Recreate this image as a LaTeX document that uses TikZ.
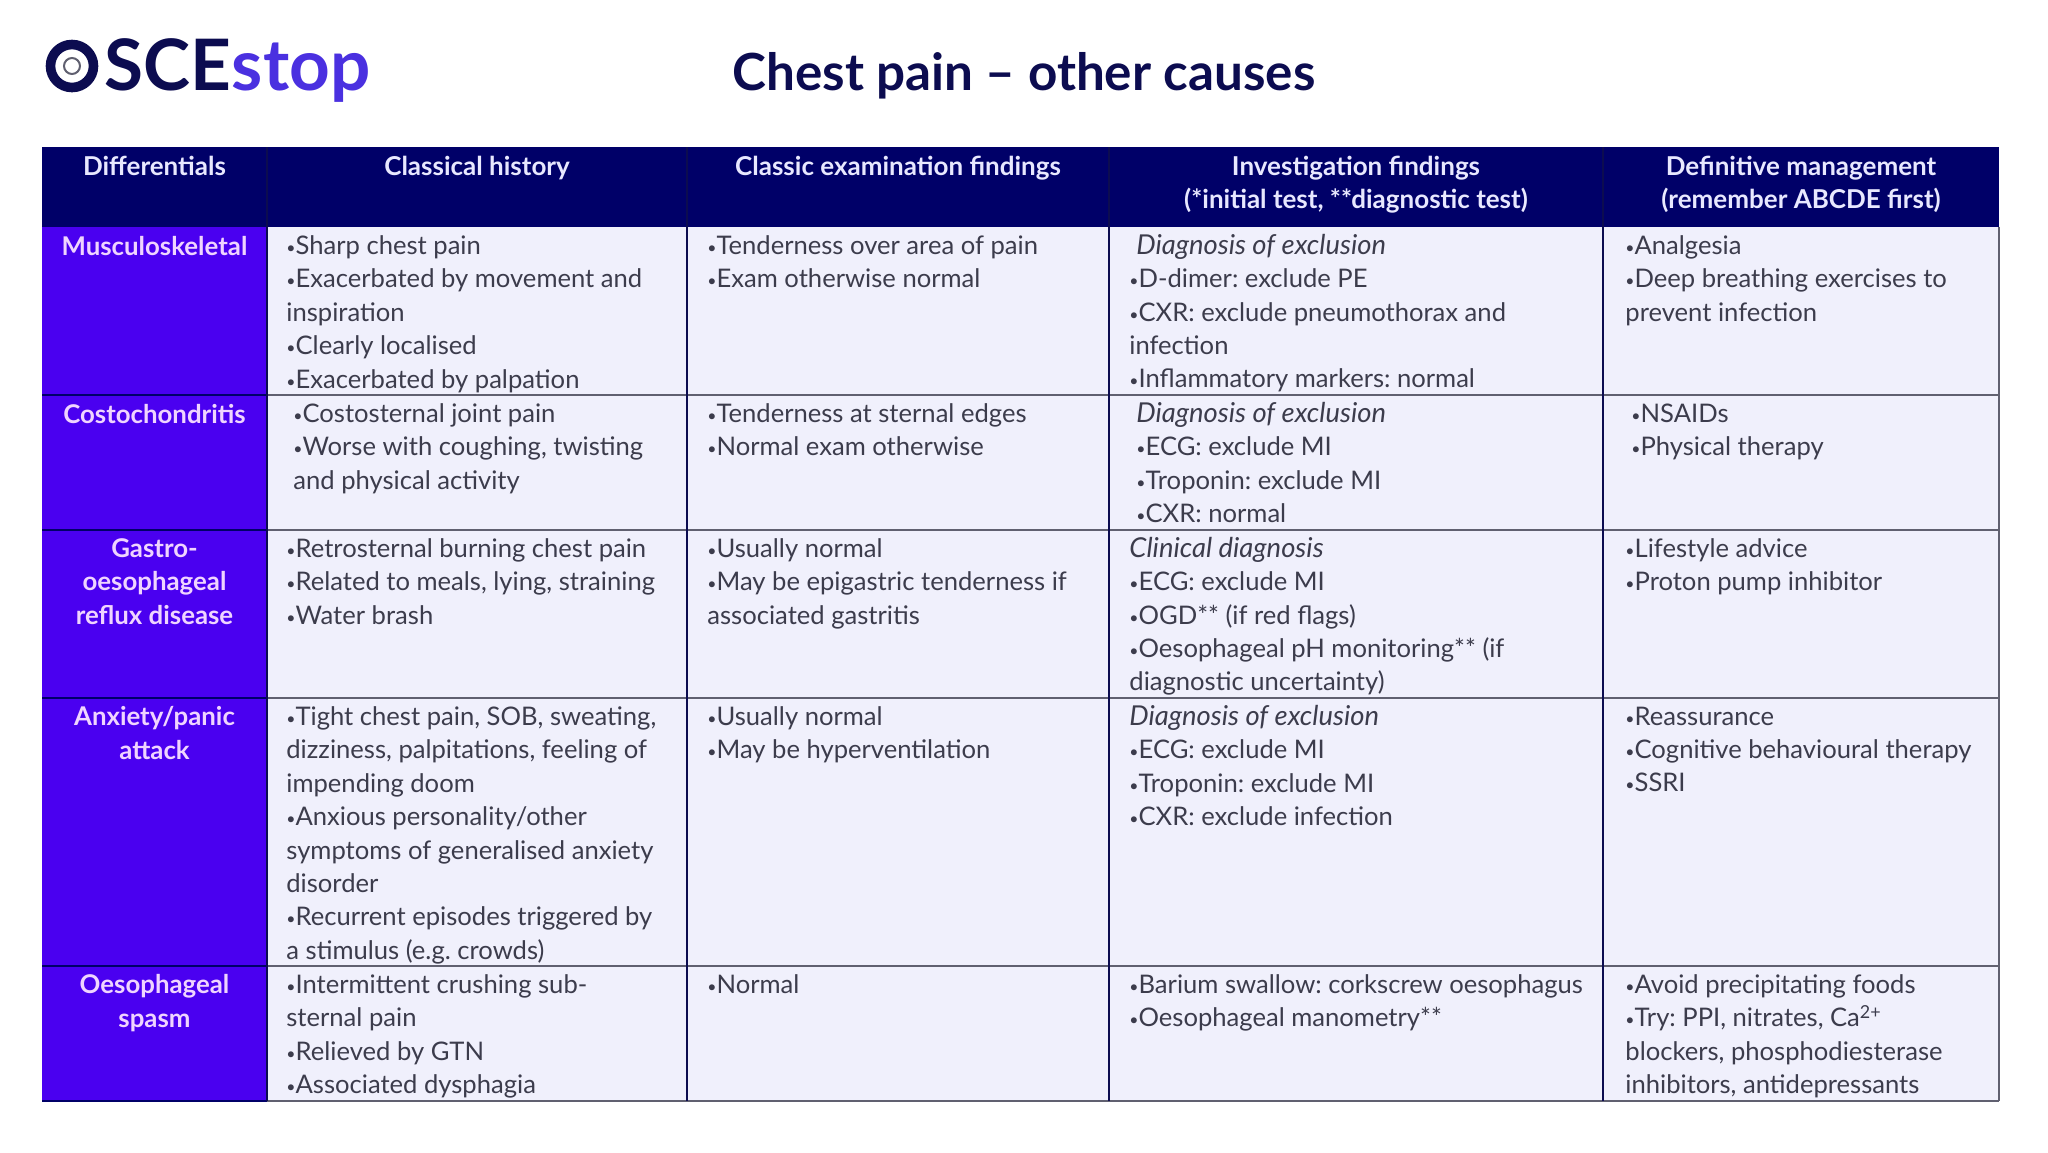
\documentclass[tikz,border=0pt]{standalone}
\usepackage{fontspec}
\setmainfont{Lato}
\usetikzlibrary{calc}

\definecolor{headnavy}{HTML}{000068}
\definecolor{sidepurple}{HTML}{4A00F0}
\definecolor{cellpale}{HTML}{F0F0FC}
\definecolor{celltext}{HTML}{3C3C4C}
\definecolor{sidetext}{HTML}{F0D4FF}
\definecolor{headtext}{HTML}{E8E8FF}
\definecolor{gridgrey}{HTML}{606070}
\definecolor{titlenavy}{HTML}{0C0C50}
\definecolor{stoppurple}{HTML}{4A30E0}

\newcommand{\blt}{\raisebox{.5pt}{\scalebox{.62}{•}}}
\newcommand{\ital}[1]{{\fontsize{13.7}{16.7}\selectfont\itshape #1}}

\tikzset{
	cellbox/.style={anchor=north west, inner sep=0pt, align=left, text=celltext,
		font=\fontsize{12.8}{16.7}\selectfont\frenchspacing, execute at begin node={\rule{0pt}{12pt}}},
	italbox/.style={cellbox, yshift=0.8pt},
	headbox/.style={anchor=north, inner sep=0pt, align=center, text=headtext,
		font=\fontsize{13}{16.7}\selectfont\bfseries\frenchspacing, execute at begin node={\rule{0pt}{12pt}}},
	sidebox/.style={headbox, text=sidetext, font=\fontsize{12.9}{16.7}\selectfont\bfseries},
}

\begin{document}
\begin{tikzpicture}[x=0.5pt, y=-0.5pt]

		\useasboundingbox (0, 0) rectangle (2048, 1152);

		\pgfmathsetmacro{\onedrop}{4.4}
		\pgfmathsetmacro{\textdrop}{8.3}

		% column and row edges
		\def\xa{42} \def\xb{267} \def\xc{687} \def\xd{1109} \def\xe{1603} \def\xf{1999}
		\def\ya{147} \def\yb{227} \def\yc{395} \def\yd{530} \def\ye{698} \def\yf{966} \def\yg{1101}

		% draw fills
		\fill[cellpale] (\xb, \yb) rectangle (\xf, \yg);
		\fill[headnavy] (\xa, \ya) rectangle (\xf, \yb);
		\fill[sidepurple] (\xa, \yb) rectangle (\xb, \yg);

		% draw grid
		\foreach \yline in {\yc, \yd, \ye, \yf, \yg}
		{
			\draw[gridgrey, line width=1.2pt] (\xb, \yline) -- (\xf, \yline);
			\draw[headnavy, line width=1pt] (\xa, \yline) -- (\xb, \yline);
		}
		\foreach \xline in {\xb, \xc, \xd, \xe}
		{
			\draw[titlenavy, line width=0.7pt] (\xline, \ya) -- (\xline, \yg);
		}
		\draw[gridgrey, line width=0.8pt] (\xf, \yb) -- (\xf, \yg);

		% draw logo
		\node[circle, draw=titlenavy, line width=4.8pt, minimum size=21.5pt, inner sep=0pt] (ring) at (72, 66) {};
		\node[circle, draw=gridgrey, line width=1pt, minimum size=8pt, inner sep=0pt] (ringcore) at (ring) {};
		\node[anchor=base west, inner sep=0pt, text=titlenavy, font=\fontsize{35.5}{35.5}\selectfont\bfseries] (sce) at (104, 90.5) {SCE};
		\node[anchor=base west, inner sep=0pt, text=stoppurple, font=\fontsize{35.5}{35.5}\selectfont\bfseries] (stop) at (sce.base east) {stop};

		% draw title
		\node[anchor=base west, inner sep=0pt, text=titlenavy, font=\fontsize{25.6}{25.6}\selectfont\bfseries] (title) at (732, 90.5) {Chest pain – other causes};

		% draw header
		\node[headbox] (hdiff) at ($(\xa, \ya)!0.5!(\xb, \ya) + (0, \onedrop)$) {Differentials};
		\node[headbox] (hhist) at ($(\xb, \ya)!0.5!(\xc, \ya) + (0, \onedrop)$) {Classical history};
		\node[headbox] (hexam) at ($(\xc, \ya)!0.5!(\xd, \ya) + (0, \onedrop)$) {Classic examination findings};
		\node[headbox] (hinv) at ($(\xd, \ya)!0.5!(\xe, \ya) + (0, \textdrop)$) {Investigation findings\\(*initial test, **diagnostic test)};
		\node[headbox] (hman) at ($(\xe, \ya)!0.5!(\xf, \ya) + (0, \textdrop)$) {Definitive management\\(remember ABCDE first)};

		% draw side labels
		\node[sidebox] (smsk) at ($(\xa, \yb)!0.5!(\xb, \yb) + (0, \onedrop)$) {Musculoskeletal};
		\node[sidebox] (scos) at ($(\xa, \yc)!0.5!(\xb, \yc) + (0, \onedrop)$) {Costochondritis};
		\node[sidebox] (sgor) at ($(\xa, \yd)!0.5!(\xb, \yd) + (0, \textdrop)$) {Gastro-\\oesophageal\\reflux disease};
		\node[sidebox] (sanx) at ($(\xa, \ye)!0.5!(\xb, \ye) + (0, \textdrop)$) {Anxiety/panic\\attack};
		\node[sidebox] (sspa) at ($(\xa, \yf)!0.5!(\xb, \yf) + (0, \textdrop)$) {Oesophageal\\spasm};

		% draw first row
		\node[cellbox] (mskhist) at (286, \yb + \textdrop) {\blt Sharp chest pain\\\blt Exacerbated by movement and\\inspiration\\\blt Clearly localised\\\blt Exacerbated by palpation};
		\node[cellbox] (mskexam) at (707, \yb + \textdrop) {\blt Tenderness over area of pain\\\blt Exam otherwise normal};
		\node[italbox] (mskinv) at (1129, \yb + \textdrop) {\hspace{3.5pt}\ital{Diagnosis of exclusion}\\\blt D-dimer: exclude PE\\\blt CXR: exclude pneumothorax and\\infection\\\blt Inflammatory markers: normal};
		\node[cellbox] (mskman) at (1625, \yb + \textdrop) {\blt Analgesia\\\blt Deep breathing exercises to\\prevent infection};

		% draw second row
		\node[cellbox] (coshist) at (293, \yc + \textdrop) {\blt Costosternal joint pain\\\blt Worse with coughing, twisting\\and physical activity};
		\node[cellbox] (cosexam) at (707, \yc + \textdrop) {\blt Tenderness at sternal edges\\\blt Normal exam otherwise};
		\node[italbox] (cosinv) at (1136, \yc + \textdrop) {\ital{Diagnosis of exclusion}\\\blt ECG: exclude MI\\\blt Troponin: exclude MI\\\blt CXR: normal};
		\node[cellbox] (cosman) at (1631, \yc + \textdrop) {\blt NSAIDs\\\blt Physical therapy};

		% draw third row
		\node[cellbox] (gorhist) at (286, \yd + \textdrop) {\blt Retrosternal burning chest pain\\\blt Related to meals, lying, straining\\\blt Water brash};
		\node[cellbox] (gorexam) at (707, \yd + \textdrop) {\blt Usually normal\\\blt May be epigastric tenderness if\\associated gastritis};
		\node[italbox] (gorinv) at (1129, \yd + \textdrop) {\ital{Clinical diagnosis}\\\blt ECG: exclude MI\\\blt OGD** (if red flags)\\\blt Oesophageal pH monitoring** (if\\diagnostic uncertainty)};
		\node[cellbox] (gorman) at (1625, \yd + \textdrop) {\blt Lifestyle advice\\\blt Proton pump inhibitor};

		% draw fourth row
		\node[cellbox] (anxhist) at (286, \ye + \textdrop) {\blt Tight chest pain, SOB, sweating,\\dizziness, palpitations, feeling of\\impending doom\\\blt Anxious personality/other\\symptoms of generalised anxiety\\disorder\\\blt Recurrent episodes triggered by\\a stimulus (e.g. crowds)};
		\node[cellbox] (anxexam) at (707, \ye + \textdrop) {\blt Usually normal\\\blt May be hyperventilation};
		\node[italbox] (anxinv) at (1129, \ye + \textdrop) {\ital{Diagnosis of exclusion}\\\blt ECG: exclude MI\\\blt Troponin: exclude MI\\\blt CXR: exclude infection};
		\node[cellbox] (anxman) at (1625, \ye + \textdrop) {\blt Reassurance\\\blt Cognitive behavioural therapy\\\blt SSRI};

		% draw fifth row
		\node[cellbox] (spahist) at (286, \yf + \textdrop) {\blt Intermittent crushing sub-\\sternal pain\\\blt Relieved by GTN\\\blt Associated dysphagia};
		\node[cellbox] (spaexam) at (707, \yf + \onedrop - 1) {\blt Normal};
		\node[cellbox] (spainv) at (1129, \yf + \textdrop) {\blt Barium swallow: corkscrew oesophagus\\\blt Oesophageal manometry**};
		\node[cellbox] (spaman) at (1625, \yf + \textdrop) {\blt Avoid precipitating foods\\\blt Try: PPI, nitrates, Ca\textsuperscript{2+}\\blockers, phosphodiesterase\\inhibitors, antidepressants};

	\end{tikzpicture}
\end{document}
